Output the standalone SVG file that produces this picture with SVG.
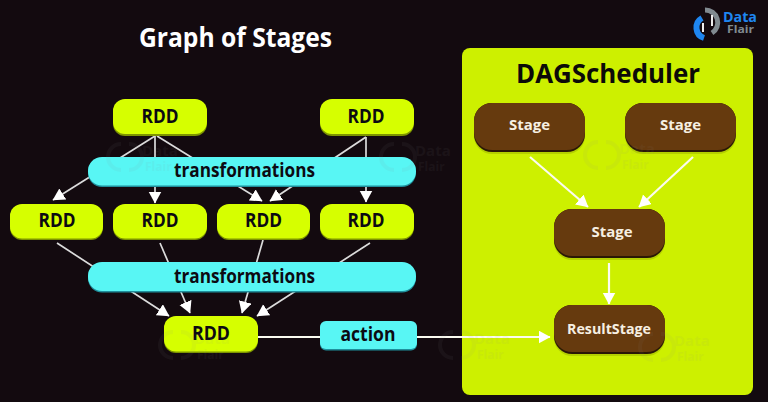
<svg xmlns="http://www.w3.org/2000/svg" xmlns:xlink="http://www.w3.org/1999/xlink" width="768" height="402" viewBox="0 0 768 402">
<style>
text{font-family:"Open Sans","Noto Sans","Liberation Sans",sans-serif;font-weight:700;text-anchor:middle}
.rdd{fill:#d6ff00}.rddb{fill:#7d9400}
.cy{fill:#58f6f4}.cyb{fill:#1f8f9c}
.st{fill:#663a0e}.stb{fill:#2a1805}.sts{fill:#b4d000}
.dk{fill:#0c0a12;font-size:19px}.lt{fill:#f6efe2;font-size:15px}
.gl{stroke:#dcdcdc;stroke-width:1.7;fill:none}
.wl{stroke:#fbfbf0;stroke-width:2.2;fill:none}
.wm text{fill:#8a8a8a;text-anchor:start}
.wm .d{font-size:15px}.wm .f{font-size:12px}
</style>
<defs>
<marker id="a" markerUnits="userSpaceOnUse" markerWidth="14" markerHeight="14" refX="11.500" refY="6.500" orient="auto"><path d="M0 0L12 6.500L0 13z" fill="#fff"/></marker>
<g id="wm" class="wm" opacity=".07"><path d="M-4-13A13 13 0 0 0-4 13M4-13A13 13 0 0 1 4 13" fill="none" stroke="#8a8a8a" stroke-width="4"/><text class="d" x="17" y="-1">Data</text><text class="f" x="20" y="14">Flair</text></g>
</defs>
<rect width="768" height="402" fill="#130a0f"/>
<text x="235.500" y="47" fill="#fff" font-size="26" textLength="193" lengthAdjust="spacingAndGlyphs">Graph of Stages</text>
<g id="panel"><rect x="462" y="48" width="291" height="347" rx="8" fill="#cdf000"/><text x="608" y="83" fill="#0c0a08" font-size="27" textLength="184" lengthAdjust="spacingAndGlyphs">DAGScheduler</text></g>
<g id="connectors">
<path class="gl" d="M155 136L53 200" marker-end="url(#a)"/>
<path class="gl" d="M155 136V203" marker-end="url(#a)"/>
<path class="gl" d="M157 136L262 201" marker-end="url(#a)"/>
<path class="gl" d="M366 137L270 201" marker-end="url(#a)"/>
<path class="gl" d="M366 137V202" marker-end="url(#a)"/>
<path class="gl" d="M57 243L169 316" marker-end="url(#a)"/>
<path class="gl" d="M160 243L190 313" marker-end="url(#a)"/>
<path class="gl" d="M263 240L242 313" marker-end="url(#a)"/>
<path class="gl" d="M370 243L257 316" marker-end="url(#a)"/>
<path class="wl" d="M258 337H550" marker-end="url(#a)"/>
<path class="wl" d="M530 157L588 207" marker-end="url(#a)"/>
<path class="wl" d="M693 157L639 207" marker-end="url(#a)"/>
<path class="wl" d="M609 263V304" marker-end="url(#a)"/>
</g>
<g id="rdd-top-1"><rect class="rddb" x="113" y="100" width="94" height="36" rx="12"/><rect class="rdd" x="113" y="99" width="94" height="35" rx="12"/><text class="dk" x="160" y="123" textLength="37" lengthAdjust="spacingAndGlyphs">RDD</text></g>
<g id="rdd-top-2"><rect class="rddb" x="320" y="100" width="94" height="36" rx="12"/><rect class="rdd" x="320" y="99" width="94" height="35" rx="12"/><text class="dk" x="366" y="123" textLength="37" lengthAdjust="spacingAndGlyphs">RDD</text></g>
<g id="transformations-1"><rect class="cyb" x="88" y="158" width="328" height="29" rx="14"/><rect class="cy" x="88" y="157" width="328" height="28.500" rx="14"/><text class="dk" x="244.500" y="177" textLength="141" lengthAdjust="spacingAndGlyphs">transformations</text></g>
<g id="rdd-mid-1"><rect class="rddb" x="10" y="205" width="93" height="35" rx="12"/><rect class="rdd" x="10" y="204" width="93" height="34.500" rx="12"/><text class="dk" x="57" y="227" textLength="37" lengthAdjust="spacingAndGlyphs">RDD</text></g>
<g id="rdd-mid-2"><rect class="rddb" x="113" y="205" width="94" height="35" rx="12"/><rect class="rdd" x="113" y="204" width="94" height="34.500" rx="12"/><text class="dk" x="160" y="227" textLength="37" lengthAdjust="spacingAndGlyphs">RDD</text></g>
<g id="rdd-mid-3"><rect class="rddb" x="217" y="205" width="93" height="35" rx="12"/><rect class="rdd" x="217" y="204" width="93" height="34.500" rx="12"/><text class="dk" x="263.500" y="227" textLength="37" lengthAdjust="spacingAndGlyphs">RDD</text></g>
<g id="rdd-mid-4"><rect class="rddb" x="320" y="205" width="94" height="35" rx="12"/><rect class="rdd" x="320" y="204" width="94" height="34.500" rx="12"/><text class="dk" x="366" y="227" textLength="37" lengthAdjust="spacingAndGlyphs">RDD</text></g>
<g id="transformations-2"><rect class="cyb" x="88" y="263" width="328" height="29.500" rx="14"/><rect class="cy" x="88" y="262" width="328" height="29" rx="14"/><text class="dk" x="244.500" y="283" textLength="141" lengthAdjust="spacingAndGlyphs">transformations</text></g>
<g id="rdd-final"><rect class="rddb" x="164" y="317" width="94" height="36" rx="12"/><rect class="rdd" x="164" y="316" width="94" height="35.500" rx="12"/><text class="dk" x="211" y="340" textLength="38" lengthAdjust="spacingAndGlyphs">RDD</text></g>
<g id="action"><rect class="cyb" x="320" y="322" width="97" height="28.500" rx="6"/><rect class="cy" x="320" y="321" width="97" height="28" rx="6"/><text class="dk" x="368" y="341" textLength="55" lengthAdjust="spacingAndGlyphs">action</text></g>
<g id="stage-1"><rect class="sts" x="474" y="106" width="111" height="48" rx="18"/><rect class="stb" x="474" y="103" width="111" height="49" rx="18"/><rect class="st" x="474" y="103" width="111" height="47" rx="18"/><text class="lt" x="529.500" y="130" textLength="41" lengthAdjust="spacingAndGlyphs">Stage</text></g>
<g id="stage-2"><rect class="sts" x="625" y="106" width="111" height="48" rx="18"/><rect class="stb" x="625" y="103" width="111" height="49" rx="18"/><rect class="st" x="625" y="103" width="111" height="47" rx="18"/><text class="lt" x="680.500" y="130" textLength="41" lengthAdjust="spacingAndGlyphs">Stage</text></g>
<g id="stage-3"><rect class="sts" x="554" y="212" width="111" height="48" rx="18"/><rect class="stb" x="554" y="209" width="111" height="49" rx="18"/><rect class="st" x="554" y="209" width="111" height="47" rx="18"/><text class="lt" x="612" y="237" textLength="41" lengthAdjust="spacingAndGlyphs">Stage</text></g>
<g id="result-stage"><rect class="sts" x="554" y="308" width="111" height="48" rx="18"/><rect class="stb" x="554" y="305" width="111" height="49" rx="18"/><rect class="st" x="554" y="305" width="111" height="47" rx="18"/><text class="lt" x="609" y="334" textLength="84" lengthAdjust="spacingAndGlyphs">ResultStage</text></g>
<g id="watermarks">
<use href="#wm" x="125" y="157"/><use href="#wm" x="398" y="157"/><use href="#wm" x="602" y="155"/><use href="#wm" x="657" y="347"/><use href="#wm" x="457" y="345"/><use href="#wm" x="177" y="345"/>
</g>
<g id="logo">
<path d="M705 10A12.500 12.500 0 0 1 712 33" fill="none" stroke="#808a90" stroke-width="5"/>
<path d="M704 38A11 11 0 0 1 702 18" fill="none" stroke="#1e86f0" stroke-width="6"/>
<path d="M703 23V32M712 15V26" stroke="#eee" stroke-width="2" fill="none"/>
<text x="740" y="22" fill="#1e86f0" font-size="14" textLength="34" lengthAdjust="spacingAndGlyphs">Data</text>
<text x="740.500" y="33" fill="#808a90" font-size="10.500" textLength="27" lengthAdjust="spacingAndGlyphs">Flair</text>
</g>
</svg>
